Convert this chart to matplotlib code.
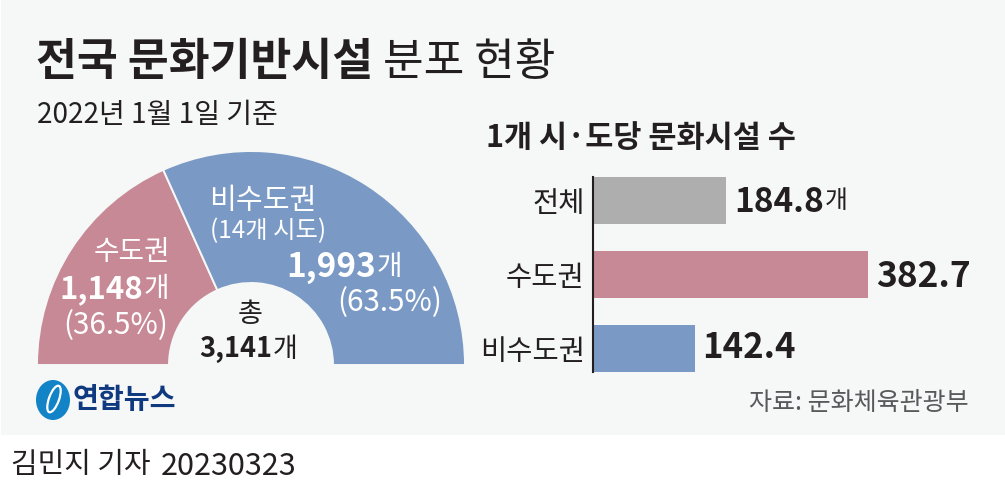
import matplotlib
matplotlib.use("Agg")
import matplotlib.pyplot as plt
from matplotlib.patches import Ellipse, Rectangle

plt.rcParams['font.family'] = ['Noto Sans CJK KR', 'DejaVu Sans']

W, H = 1005, 494
INK = "#231f20"
PANEL = "#f6f7f7"
PINK = "#c78996"
BLUE = "#7a9ac5"
GRAY = "#aeaeae"

# 데이터
regions = ["수도권", "비수도권"]
counts = [1148, 1993]
total = 3141
bar_labels = ["전체", "수도권", "비수도권"]
bar_values = [184.8, 382.7, 142.4]
bar_colors = [GRAY, PINK, BLUE]

fig = plt.figure(figsize=(W / 100, H / 100), dpi=100, facecolor="white")


def box(x0, y0, x1, y1):
    # 픽셀 좌표(위가 0) -> figure 비율
    return [x0 / W, 1 - y1 / H, (x1 - x0) / W, (y1 - y0) / H]


# 전체 오버레이 (글자, 배경)
bg = fig.add_axes([0, 0, 1, 1], zorder=0)
bg.set_xlim(0, W)
bg.set_ylim(H, 0)
bg.axis("off")
bg.add_patch(Rectangle((1, 0), W - 1, 435, color=PANEL, lw=0))

top = fig.add_axes([0, 0, 1, 1], zorder=5)
top.set_xlim(0, W)
top.set_ylim(H, 0)
top.axis("off")


def txt(x, y, s, size, color=INK, weight="regular", ha="left"):
    top.text(x, y, s, fontsize=size, color=color, fontweight=weight, ha=ha, va="center")


# 반원 도넛
pie_ax = fig.add_axes(box(37, 151, 465, 579), zorder=2)
pie_ax.patch.set_alpha(0)
wedges, _ = pie_ax.pie(counts + [total], colors=[PINK, BLUE, "none"], startangle=180,
                       counterclock=False, radius=1,
                       wedgeprops=dict(width=132 / 214, edgecolor=PANEL, linewidth=1.4))
wedges[2].set_visible(False)
pie_ax.set_xlim(-1, 1)
pie_ax.set_ylim(-1, 1)

# 막대
bar_h = 47 / 73.5
bar_ax = fig.add_axes(box(593, 177, 867.6, 372), zorder=2)
bar_ax.patch.set_alpha(0)
bar_ax.barh(bar_labels, bar_values, color=bar_colors, height=bar_h)
bar_ax.set_xlim(0, 382.7)
bar_ax.set_ylim(2 + bar_h / 2, -bar_h / 2)
for s in ["top", "right", "bottom"]:
    bar_ax.spines[s].set_visible(False)
bar_ax.spines["left"].set_color(INK)
bar_ax.spines["left"].set_linewidth(1.5)
bar_ax.set_xticks([])
bar_ax.tick_params(axis="y", length=0, pad=6, labelsize=20.5, labelcolor=INK)
for lab in bar_ax.get_yticklabels():
    lab.set_fontweight("light")

# 제목
txt(36, 62, "전국 문화기반시설", 32, weight="bold")
txt(383, 62, "분포 현황", 31.8, weight="light")
txt(37, 115, "2022년 1월 1일 기준", 20.2, weight="light")
txt(486, 138, "1개 시·도당 문화시설 수", 22, weight="bold")

# 도넛 글자
txt(132, 252, regions[0], 20, color="white", weight="light", ha="center")
txt(143, 289, f"{counts[0]:,}", 22.5, color="white", weight="bold", ha="right")
txt(144, 289, "개", 20, color="white", weight="light")
txt(116, 326, "(36.5%)", 21.4, color="white", weight="light", ha="center")

txt(263, 201, regions[1], 21, color="white", weight="light", ha="center")
txt(268, 231, "(14개 시도)", 17.5, color="white", weight="light", ha="center")
txt(376, 267, f"{counts[1]:,}", 24, color="white", weight="bold", ha="right")
txt(377, 267, "개", 20, color="white", weight="light")
txt(390, 303, "(63.5%)", 21.4, color="white", weight="light", ha="center")

txt(250, 314, "총", 19.5, weight="regular", ha="center")
txt(272, 349, f"{total:,}", 19.5, weight="bold", ha="right")
txt(273, 349, "개", 19.5, weight="light")

# 막대 값
txt(734, 202, f"{bar_values[0]}", 24, weight="bold")
txt(825, 201, "개", 18, weight="light")
txt(876, 276, f"{bar_values[1]}", 25.4, weight="bold")
txt(702, 347, f"{bar_values[2]}", 25, weight="bold")

# 출처, 로고
txt(969, 403, "자료: 문화체육관광부", 18, color="#58595b", weight="light", ha="right")
top.add_patch(Ellipse((53, 400), 34, 40, color="#1383c8", lw=0))
top.add_patch(Ellipse((54, 399), 10, 28, angle=20, fill=False, ec="white", lw=1.6))
txt(73, 400, "연합뉴스", 20.3, color="#103a80", weight="black")

# 기자
txt(11, 465, "김민지 기자", 20.8, weight="regular")
txt(161, 466, "20230323", 22, weight="light")

fig.savefig("out.png", dpi=100)
